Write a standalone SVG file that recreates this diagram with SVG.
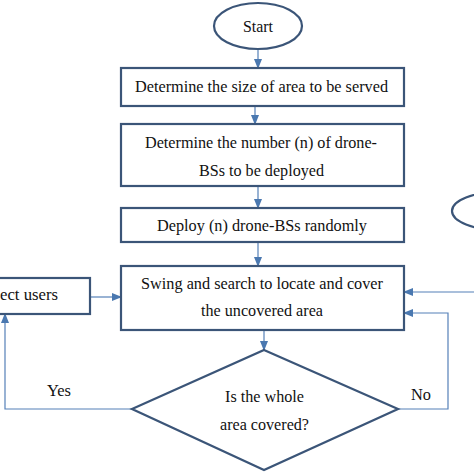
<svg xmlns="http://www.w3.org/2000/svg" width="474" height="474" viewBox="0 0 474 474">
<defs>
<marker id="ah" markerWidth="10" markerHeight="8" refX="9" refY="4" orient="auto" markerUnits="userSpaceOnUse">
<path d="M0,0 L10,4 L0,8 Z" fill="#4A78B0"/>
</marker>
<style>
.box{fill:#fff;stroke:#3B5578;stroke-width:2.2}
.t{font-family:"Liberation Serif","Times New Roman",serif;font-size:17.5px;fill:#111;text-anchor:middle}
.c{fill:none;stroke:#5580B8;stroke-width:1.2}
.ca{fill:none;stroke:#5580B8;stroke-width:1.2;marker-end:url(#ah)}
</style>
</defs>
<rect width="474" height="474" fill="#fff"/>
<g id="connectors">
<path class="ca" d="M258,49 V68"/>
<path class="ca" d="M255,106 V124"/>
<path class="ca" d="M258,186 V208"/>
<path class="ca" d="M258,242 V266"/>
<path class="ca" d="M264,330 V350"/>
<path class="ca" d="M90,297 H121"/>
<path class="ca" d="M474,292 H404"/>
<path class="ca" d="M398,409 H448 V313 H404"/>
<path class="ca" d="M132,409 H5 V314"/>
</g>
<g id="start">
<ellipse class="box" cx="258" cy="26" rx="44" ry="23"/>
<text class="t" x="258" y="32" textLength="30" lengthAdjust="spacingAndGlyphs">Start</text>
</g>
<g id="size">
<rect class="box" x="121" y="68" width="283" height="38"/>
<text class="t" x="261.5" y="92" textLength="253" lengthAdjust="spacingAndGlyphs">Determine the size of area to be served</text>
</g>
<g id="number">
<rect class="box" x="121" y="124" width="283" height="62"/>
<text class="t" x="261" y="148" textLength="232" lengthAdjust="spacingAndGlyphs">Determine the number (n) of drone-</text>
<text class="t" x="261.5" y="176" textLength="125" lengthAdjust="spacingAndGlyphs">BSs to be deployed</text>
</g>
<g id="deploy">
<rect class="box" x="121" y="208" width="283" height="34"/>
<text class="t" x="262" y="231" textLength="210" lengthAdjust="spacingAndGlyphs">Deploy (n) drone-BSs randomly</text>
</g>
<g id="swing">
<rect class="box" x="121" y="266" width="283" height="64"/>
<text class="t" x="262" y="289" textLength="242" lengthAdjust="spacingAndGlyphs">Swing and search to locate and cover</text>
<text class="t" x="262" y="316" textLength="122" lengthAdjust="spacingAndGlyphs">the uncovered area</text>
</g>
<g id="detect">
<rect class="box" x="-40" y="278" width="130" height="36"/>
<text class="t" x="29" y="300" textLength="58" lengthAdjust="spacingAndGlyphs">ect users</text>
</g>
<g id="end">
<ellipse class="box" cx="500" cy="211" rx="48" ry="19"/>
</g>
<g id="decision">
<path class="box" d="M264,350 L398,409 L264,470 L132,409 Z"/>
<text class="t" x="264.5" y="402" textLength="79" lengthAdjust="spacingAndGlyphs">Is the whole</text>
<text class="t" x="264.5" y="430" textLength="89" lengthAdjust="spacingAndGlyphs">area covered?</text>
</g>
<text class="t" x="59" y="396" textLength="24" lengthAdjust="spacingAndGlyphs">Yes</text>
<text class="t" x="421" y="400" textLength="20" lengthAdjust="spacingAndGlyphs">No</text>
</svg>
